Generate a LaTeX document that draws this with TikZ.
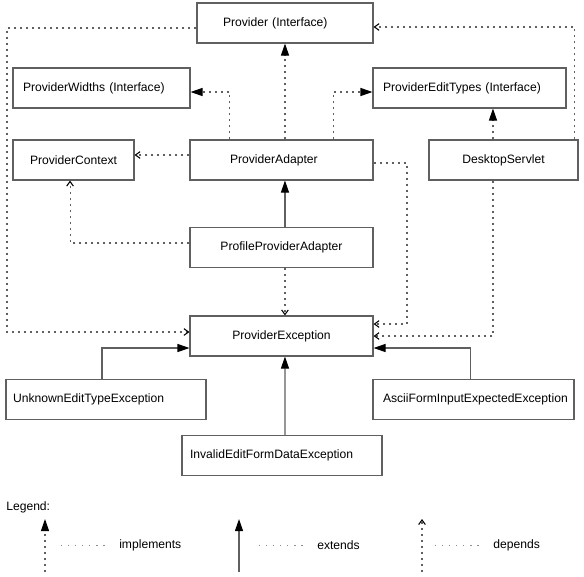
\documentclass[tikz,border=0pt]{standalone}
\usepackage{fontspec}
\usepackage{tikz}
\usetikzlibrary{arrows.meta}
\newfontfamily\umlfont{Liberation Sans}
\definecolor{edgegray}{RGB}{96,96,96}
\definecolor{dotgray}{RGB}{140,140,140}

\begin{document}
\begin{tikzpicture}[x=0.75pt,y=-0.75pt,
  cls/.style={draw=edgegray,line width=0.8pt,minimum height=30pt,inner ysep=0pt,
    font=\umlfont\fontsize{9.1}{10}\selectfont},
  lcls/.style 2 args={cls,align=left,text width=#1,inner xsep=#2},
  impl/.style={edgegray,line width=0.8pt,dash pattern=on 1.5pt off 3pt,
    -{Triangle[length=9pt,width=6pt,color=black]}},
  ext/.style={edgegray,line width=0.8pt,-{Triangle[length=9pt,width=6pt,color=black]}},
  dep/.style={edgegray,line width=0.8pt,dash pattern=on 1.5pt off 3pt,
    -{Straight Barb[length=3.5pt,width=5pt,color=black]}},
  legdots/.style={dotgray,line width=0.7pt,dash pattern=on 0.9pt off 4.4pt},
  legtext/.style={anchor=west,inner sep=0pt,font=\umlfont\fontsize{9.1}{10}\selectfont}]
  \useasboundingbox (0,0) rectangle (584,576);

  % classes
  \node[lcls={93pt}{19.5pt}] (provider) at (285,23) {Provider (Interface)};
  \node[lcls={117.75pt}{7.5pt}] (widths) at (101.5,88) {ProviderWidths (Interface)};
  \node[lcls={129.75pt}{7.5pt}] (edittypes) at (469.5,88) {ProviderEditTypes (Interface)};
  \node[cls,minimum width=90.75pt] (context) at (73.5,160) {ProviderContext};
  \node[lcls={77.25pt}{30pt}] (adapter) at (281.5,160) {ProviderAdapter};
  \node[cls,minimum width=111.75pt] (servlet) at (503.5,160) {DesktopServlet};
  \node[cls,minimum width=137.25pt] (profadapter) at (281.5,247.5) {ProfileProviderAdapter};
  \node[cls,minimum width=137.25pt] (exception) at (281.5,336) {ProviderException};
  \node[lcls={139.5pt}{5.25pt}] (unknown) at (106,399.5) {UnknownEditTypeException};
  \node[lcls={138pt}{6pt}] (invalid) at (282,455.5) {InvalidEditFormDataException};
  \node[lcls={135.75pt}{7.5pt}] (ascii) at (473.5,399.5) {AsciiFormInputExpectedException};

  \coordinate (leftlane) at (7,200);
  \coordinate (midlane) at (407,250);

  % implements
  \draw[impl] (adapter.north -| provider.south) -- (provider.south);
  \draw[impl] ([xshift=30pt]adapter.north west) |- ([yshift=-3pt]widths.east);
  \draw[impl] ([xshift=-30pt]adapter.north east) |- ([yshift=-3pt]edittypes.west);
  \draw[impl] ([xshift=-7.9pt]servlet.north) -- ([xshift=-7.9pt]servlet.north |- edittypes.south);
  % extends
  \draw[ext] ([xshift=2.6pt]profadapter.north) -- ([xshift=2.6pt]adapter.south);
  \draw[ext] ([xshift=-3pt]unknown.north) |- ([yshift=-9pt]exception.west);
  \draw[ext] ([xshift=2.25pt]invalid.north) -- ([xshift=2.6pt]exception.south);
  \draw[ext] ([xshift=-2.6pt]ascii.north) |- ([yshift=-9pt]exception.east);
  % depends
  \draw[dep] ([yshift=-3.75pt]provider.west) -| (leftlane) |- ([yshift=3pt]exception.west);
  \draw[dep] ([yshift=3.75pt]adapter.west) -- ([yshift=3.75pt]context.east);
  \draw[dep] ([yshift=-2.25pt]adapter.east) -| (midlane) |- ([yshift=9pt]exception.east);
  \draw[dep] ([xshift=-3pt]servlet.north east) |- ([yshift=-3pt]provider.east);
  \draw[dep] ([xshift=-7.9pt]servlet.south) |- (exception.east);
  \draw[dep] ([yshift=3.4pt]profadapter.west) -| ([xshift=-2.6pt]context.south);
  \draw[dep] ([xshift=2.6pt]profadapter.south) -- ([xshift=2.6pt]exception.north);

  % legend
  \node[legtext] (legend) at (6,507) {Legend:};
  \foreach \x/\kind/\tx/\name in {45/impl/119/implements,239/ext/317/extends,422/dep/493/depends} {
    \coordinate (\name0) at (\x,572);
    \coordinate (\name1) at (\x,519);
    \draw[\kind] (\name0) -- (\name1);
    \node[legtext] (\name) at (\tx,545) {\name};
    \draw[legdots] ([xshift=-43.5pt]\name.west) -- ([xshift=-7.5pt]\name.west);
  }
\end{tikzpicture}
\end{document}
